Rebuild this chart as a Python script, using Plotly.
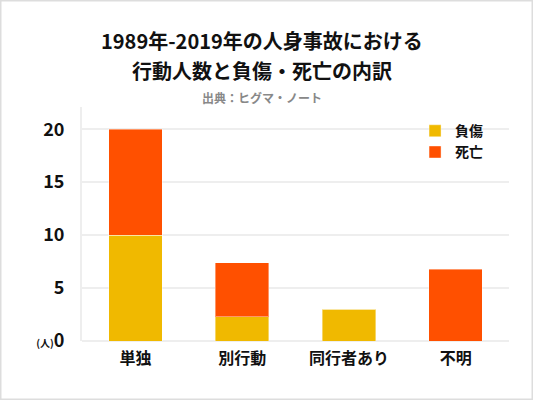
import plotly.graph_objects as go

categories = ["単独", "別行動", "同行者あり", "不明"]
injured = [10, 2.3, 3, 0]
killed = [10, 5.1, 0, 6.8]
y_ticks = [0, 5, 10, 15, 20]
y_tick_labels = ["<span style='font-size:10px'>(人)</span>0", "5", "10", "15", "20"]

W, H = 533, 400
ML, MR, MT, MB = 82, 24, 107, 59
FONT = "Noto Sans CJK JP"

fig = go.Figure()
fig.add_trace(go.Bar(x=categories, y=injured, name="負傷",
                     marker=dict(color="#F0B900", line=dict(color="rgba(255,255,255,0.4)", width=1))))
fig.add_trace(go.Bar(x=categories, y=killed, name="死亡",
                     marker=dict(color="#FF5000", line=dict(color="rgba(255,255,255,0.4)", width=1))))

pw = W - ML - MR
ph = H - MT - MB


def py(pix):
    # pixel row from top of the figure -> paper y
    return 1 + (MT - pix) / ph


cx = (262 - ML) / pw

fig.update_layout(
    width=W, height=H,
    barmode="stack", bargap=0.5,
    margin=dict(l=ML, r=MR, t=MT, b=MB),
    paper_bgcolor="white", plot_bgcolor="white",
    font=dict(family=FONT, color="#111"),
    showlegend=True,
    legend=dict(x=0.78, y=0.965, xanchor="left", yanchor="top", traceorder="normal",
                font=dict(size=14, family=FONT, weight="bold"),
                bgcolor="rgba(0,0,0,0)", itemwidth=30, tracegroupgap=6),
    xaxis=dict(showgrid=False, showline=False, ticks="",
               tickfont=dict(size=16, family=FONT, weight="bold", color="#111"),
               ticklabelstandoff=6),
    yaxis=dict(range=[0, 22.1], tickvals=y_ticks, ticktext=y_tick_labels,
               showgrid=True, gridcolor="#eeeeee", gridwidth=2,
               zeroline=True, zerolinecolor="#eeeeee", zerolinewidth=2,
               showline=True, linecolor="#eeeeee", linewidth=2,
               ticks="", ticklabelstandoff=12,
               tickfont=dict(size=18, family=FONT, weight="bold", color="#111")),
    annotations=[
        dict(text="1989年-2019年の人身事故における",
             xref="paper", yref="paper", x=cx, y=py(40),
             xanchor="center", yanchor="middle", showarrow=False,
             font=dict(size=20, family=FONT, weight="bold", color="#111")),
        dict(text="行動人数と負傷・死亡の内訳",
             xref="paper", yref="paper", x=cx, y=py(70),
             xanchor="center", yanchor="middle", showarrow=False,
             font=dict(size=20, family=FONT, weight="bold", color="#111")),
        dict(text="出典：ヒグマ・ノート",
             xref="paper", yref="paper", x=cx, y=py(98),
             xanchor="center", yanchor="middle", showarrow=False,
             font=dict(size=12, family=FONT, weight="bold", color="#888")),
    ],
    shapes=[dict(type="rect", xref="paper", yref="paper",
                 x0=-ML / pw + 0.5 / pw, x1=1 + MR / pw - 0.5 / pw,
                 y0=-MB / ph + 0.5 / ph, y1=1 + MT / ph - 0.5 / ph,
                 line=dict(color="#dddddd", width=2), layer="below")],
)

fig.write_html("out.html", config={"displayModeBar": False},
               post_script="document.body.style.margin='0';")
